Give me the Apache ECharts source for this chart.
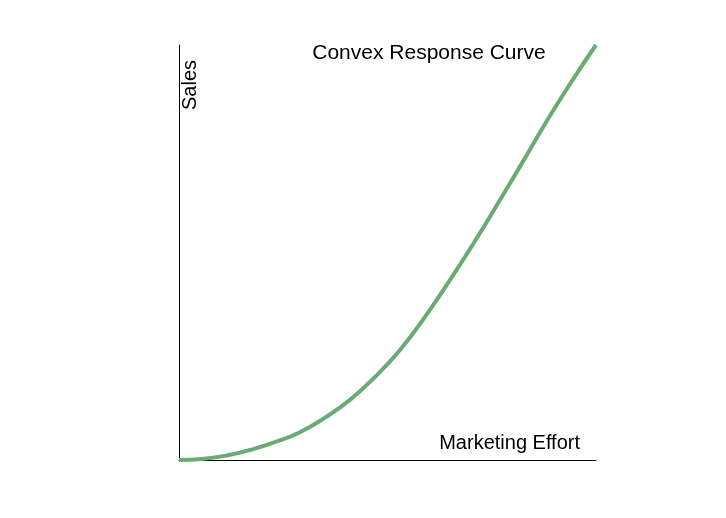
<!DOCTYPE html>
<html>
<head>
<meta charset="utf-8">
<script src="https://cdn.jsdelivr.net/npm/echarts@6/dist/echarts.min.js"></script>
<style>html,body{margin:0;padding:0;background:#fff}#chart{width:726px;height:518px}</style>
</head>
<body>
<div id="chart"></div>
<script>
// points (effort, sales)
const effort = [0, 0.6, 1.2, 1.7, 2.3, 2.9, 3.5, 4.1, 4.7, 5.3, 5.9, 6.5, 7.1, 7.7, 8.3, 8.9, 9.5, 10];
const sales = [0, 0.03, 0.12, 0.24, 0.43, 0.67, 1.02, 1.45, 2.0, 2.65, 3.45, 4.34, 5.28, 6.27, 7.28, 8.3, 9.25, 10];

const chart = echarts.init(document.getElementById('chart'));

const option = {
    backgroundColor: '#fff',
    animation: false,
    title: {
        text: 'Convex Response Curve',
        left: 424,
        top: 38,
        textAlign: 'center',
        textStyle: { fontFamily: 'Liberation Sans', fontSize: 21, fontWeight: 'normal', color: '#000' }
    },
    grid: { left: 179, right: 130, top: 45, bottom: 58 },
    xAxis: {
        type: 'value', min: 0, max: 10,
        axisLine: { show: true, lineStyle: { color: '#000', width: 1 } },
        axisTick: { show: false }, axisLabel: { show: false }, splitLine: { show: false }
    },
    yAxis: {
        type: 'value', min: 0, max: 10,
        axisLine: { show: true, lineStyle: { color: '#000', width: 1 } },
        axisTick: { show: false }, axisLabel: { show: false }, splitLine: { show: false }
    },
    graphic: [
        {
            type: 'text', x: 580, y: 443,
            style: { text: 'Marketing Effort', fontFamily: 'Liberation Sans', fontSize: 20, fill: '#000', align: 'right', verticalAlign: 'middle' }
        },
        {
            type: 'text', x: 190, y: 85, rotation: Math.PI / 2,
            style: { text: 'Sales', fontFamily: 'Liberation Sans', fontSize: 20, fill: '#000', align: 'center', verticalAlign: 'middle' }
        }
    ],
    series: [{
        type: 'line',
        data: effort.map((x, i) => [x, sales[i]]),
        smooth: true,
        showSymbol: false,
        lineStyle: { color: '#6aaa74', width: 4 }
    }]
};

chart.setOption(option);
</script>
</body>
</html>
